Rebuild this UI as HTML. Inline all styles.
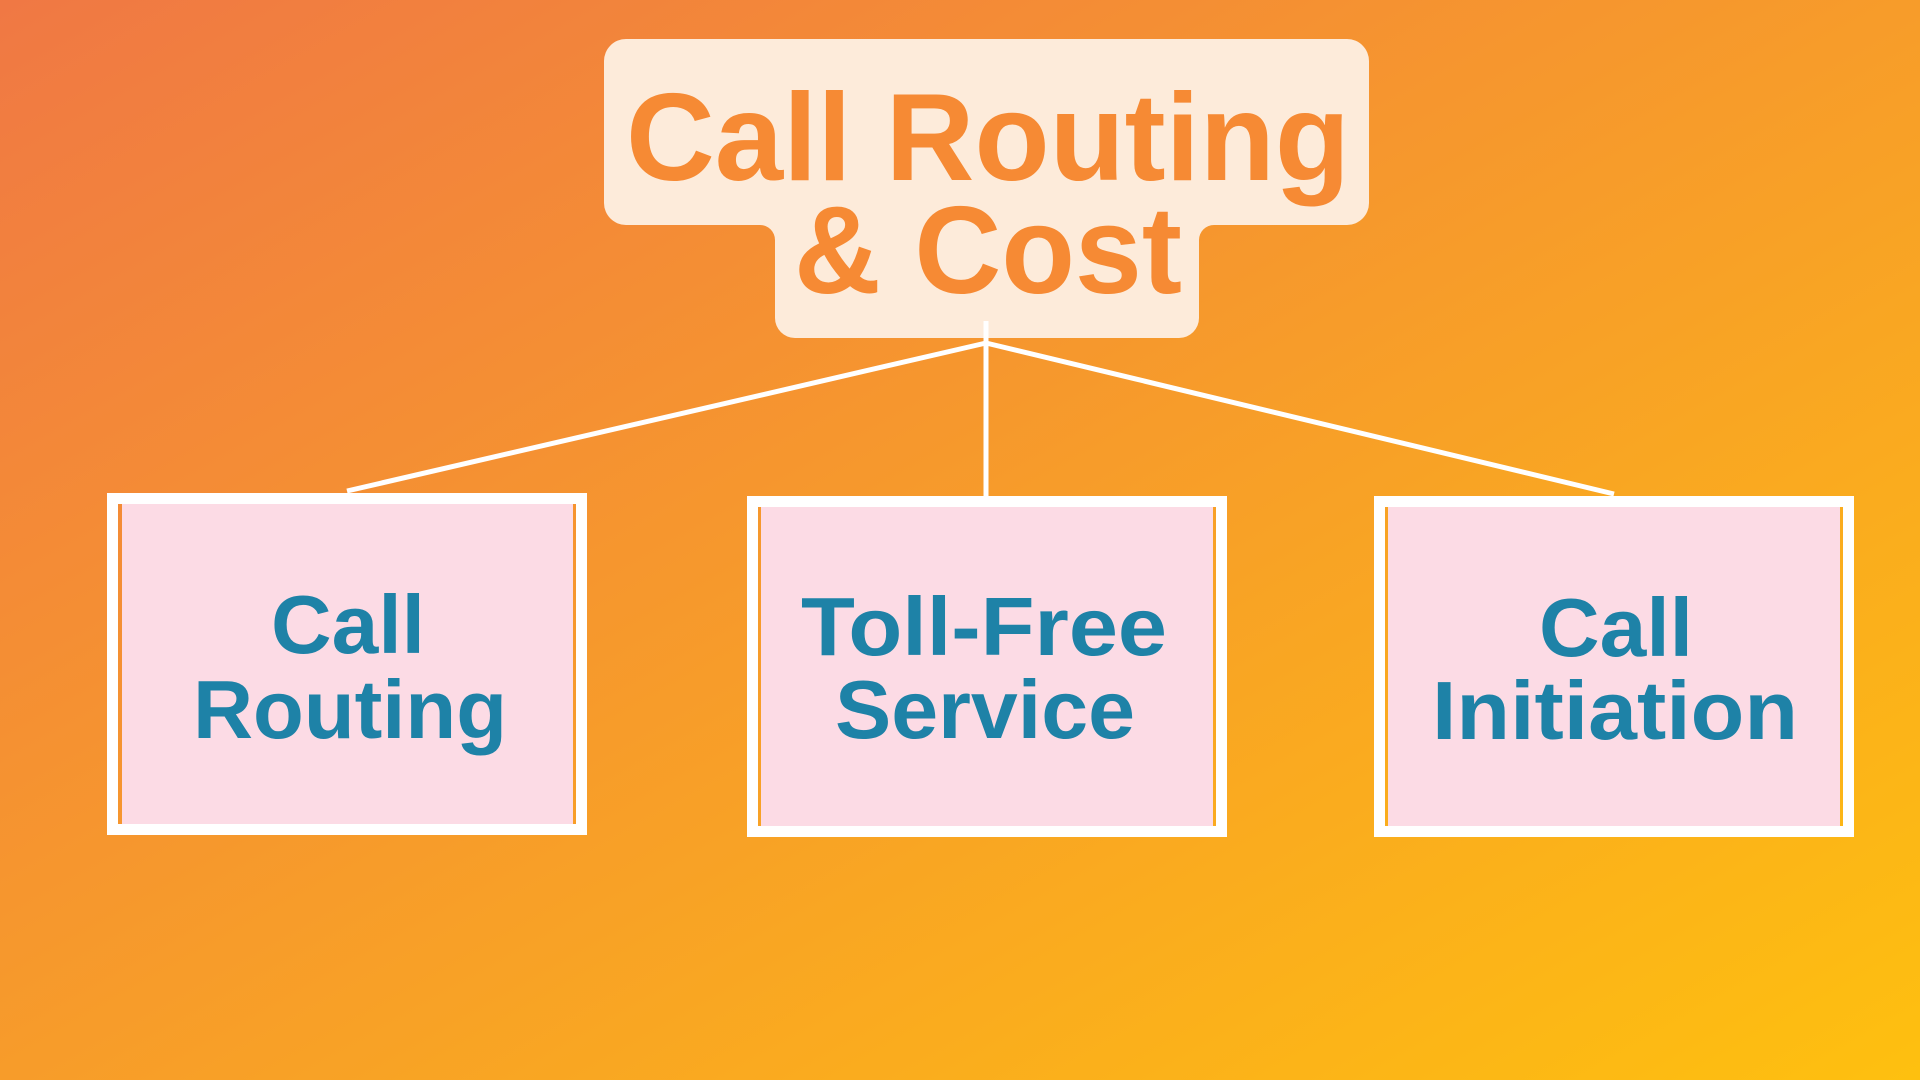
<!DOCTYPE html>
<html>
<head>
<meta charset="utf-8">
<style>
  html, body { margin: 0; padding: 0; }
  body {
    width: 1920px; height: 1080px; overflow: hidden;
    background: linear-gradient(to bottom right, #F07844, #F79C2A 50%, #FEC00F);
  }
  svg { display: block; }
  text { font-family: "Liberation Sans", Arial, sans-serif; font-weight: bold; }
</style>
</head>
<body>
<svg width="1920" height="1080" viewBox="0 0 1920 1080" xmlns="http://www.w3.org/2000/svg">
  <!-- header shape -->
  <path d="M 626,39 H 1347 A 22 22 0 0 1 1369 61 V 203 A 22 22 0 0 1 1347 225 H 1214 A 15 15 0 0 0 1199 240 V 318 A 20 20 0 0 1 1179 338 H 795 A 20 20 0 0 1 775 318 V 240 A 15 15 0 0 0 760 225 H 626 A 22 22 0 0 1 604 203 V 61 A 22 22 0 0 1 626 39 Z" fill="#FDEBDA"/>
  <text x="988" y="180" font-size="124" fill="#F68A34" text-anchor="middle" textLength="724" lengthAdjust="spacingAndGlyphs">Call Routing</text>
  <text x="988" y="293" font-size="124" fill="#F68A34" text-anchor="middle" textLength="388" lengthAdjust="spacingAndGlyphs">&amp; Cost</text>

  <!-- connectors -->
  <line x1="986" y1="321" x2="986" y2="496" stroke="#ffffff" stroke-width="5"/>
  <line x1="986" y1="343" x2="347" y2="491" stroke="#ffffff" stroke-width="5"/>
  <line x1="986" y1="343" x2="1614" y2="494" stroke="#ffffff" stroke-width="5"/>

  <!-- box 1 -->
  <rect x="122" y="504" width="451" height="320" fill="#FCDBE5"/>
  <rect x="112.5" y="498.5" width="469" height="331" fill="none" stroke="#ffffff" stroke-width="11"/>
  <text x="348" y="653" font-size="83" fill="#1E82A7" text-anchor="middle" textLength="154" lengthAdjust="spacingAndGlyphs">Call</text>
  <text x="350" y="738" font-size="83" fill="#1E82A7" text-anchor="middle" textLength="314" lengthAdjust="spacingAndGlyphs">Routing</text>

  <!-- box 2 -->
  <rect x="761" y="507" width="452" height="319" fill="#FCDBE5"/>
  <rect x="752.5" y="501.5" width="469" height="330" fill="none" stroke="#ffffff" stroke-width="11"/>
  <text x="984" y="655" font-size="83" fill="#1E82A7" text-anchor="middle" textLength="366" lengthAdjust="spacingAndGlyphs">Toll-Free</text>
  <text x="985" y="738" font-size="83" fill="#1E82A7" text-anchor="middle" textLength="300" lengthAdjust="spacingAndGlyphs">Service</text>

  <!-- box 3 -->
  <rect x="1388" y="507" width="452" height="319" fill="#FCDBE5"/>
  <rect x="1379.5" y="501.5" width="469" height="330" fill="none" stroke="#ffffff" stroke-width="11"/>
  <text x="1616" y="656" font-size="83" fill="#1E82A7" text-anchor="middle" textLength="154" lengthAdjust="spacingAndGlyphs">Call</text>
  <text x="1615" y="739" font-size="83" fill="#1E82A7" text-anchor="middle" textLength="366" lengthAdjust="spacingAndGlyphs">Initiation</text>
</svg>
</body>
</html>
